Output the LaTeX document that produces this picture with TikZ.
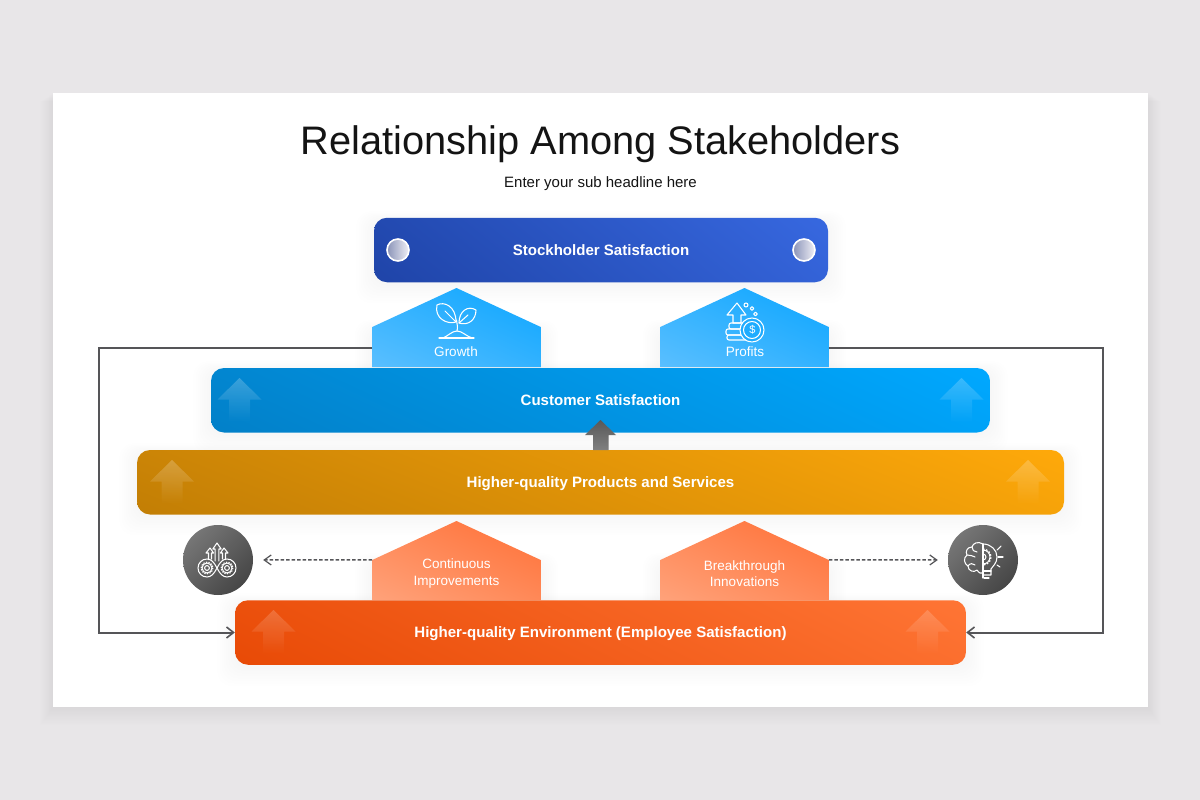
\documentclass[tikz,border=0pt]{standalone}
\usepackage{fontspec}
\setmainfont{Liberation Sans}
\usetikzlibrary{arrows.meta,calc,fadings,shadings}
\definecolor{pagebg}{HTML}{E8E6E8}
\definecolor{linegray}{HTML}{555558}
\definecolor{inktext}{HTML}{141414}
\definecolor{stockA}{HTML}{1F44A8}\definecolor{stockB}{HTML}{3768E0}
\definecolor{custA}{HTML}{0280C8}\definecolor{custB}{HTML}{00A8FF}
\definecolor{prodA}{HTML}{C27E05}\definecolor{prodB}{HTML}{FFA90A}
\definecolor{envA}{HTML}{E84A06}\definecolor{envB}{HTML}{FF7535}
\definecolor{skyA}{HTML}{5ABFFF}\definecolor{skyB}{HTML}{0AA5FF}
\definecolor{peachA}{HTML}{FFA27A}\definecolor{peachB}{HTML}{FF6F35}
\definecolor{badgeA}{HTML}{808080}\definecolor{badgeB}{HTML}{3C3C3C}
\definecolor{dotA}{HTML}{8A93B8}\definecolor{dotB}{HTML}{F0F0F6}
\definecolor{upA}{HTML}{585858}\definecolor{upB}{HTML}{808080}
\tikzset{
  corners/.style n args={2}{lower left=#1,upper right=#2,lower right=#1!50!#2,upper left=#1!50!#2},
  barcorners/.style n args={2}{lower left=#1,upper right=#2,lower right=#1!15!#2,upper left=#1!85!#2},
  bar/.style={rounded corners=13pt,inner sep=0pt,minimum height=64.5pt,text=white,text height=12.4pt,text depth=1.6pt,font=\fontsize{15.05}{18}\selectfont\bfseries},
  housebody/.style={inner sep=0pt,minimum width=168.5pt},
  houselabel/.style={text=white,font=\fontsize{13.5}{16.5}\selectfont,align=center,inner sep=0pt},
  iconline/.style={draw=white,line width=1.05pt,line cap=round,line join=round},
  connector/.style={draw=linegray,line width=2pt,-{Straight Barb[length=7pt,width=11pt,line width=1.6pt]}},
  dashconn/.style={draw=linegray,line width=1.5pt,dash pattern=on 3.5pt off 2pt,-{Straight Barb[length=7pt,width=10pt,line width=1.2pt]},shorten >=10pt},
  badge/.style={circle,minimum size=70pt,inner sep=0pt,shade,upper left=badgeA,lower right=badgeB,upper right=badgeA!50!badgeB,lower left=badgeA!50!badgeB},
  knob/.style={circle,minimum size=22pt,inner sep=0pt,draw=white,line width=1.6pt,left color=dotA,right color=dotB},
}
\newcommand{\softshadow}[4]{%
  \foreach \k in {1,...,8}{\fill[black,opacity=0.005,rounded corners=14pt]
    (#1-\k*2.2,#2-\k*1.2+3) rectangle (#3+\k*2.2,#4+\k*2.5+1);}}
\newcommand{\arrowfade}[3]{% cx, tip y, opacity
  \fill[white,fill opacity=#3,path fading=south]
    (#1,#2) -- (#1+22,#2+21.5) -- (#1+10.5,#2+21.5) -- (#1+10.5,#2+44)
    -- (#1-10.5,#2+44) -- (#1-10.5,#2+21.5) -- (#1-22,#2+21.5) -- cycle;}
\newcommand{\house}[6]{% name, cx, shoulder y, bottom y, lower-left colour, upper-right colour
  \softshadow{#2-84}{#3}{#2+84}{#4}
  \shade[corners={#5}{#6}]
    (#2-84.25,#4) -- (#2-84.25,#3) -- (#2,#3-39) -- (#2+84.25,#3) -- (#2+84.25,#4) -- cycle;
  \node[housebody,minimum height=42pt] (#1) at (#2,#3+21) {};}
\begin{document}
\begin{tikzpicture}[x=1pt,y=-1pt]
\useasboundingbox (0,0) rectangle (1200,800);
\fill[pagebg] (0,0) rectangle (1200,800);
% card
\foreach \k in {1,...,14}{\fill[black,opacity=0.004] (53-\k*.9,93+\k*.6) rectangle (1148+\k*.9,707+\k*1.3);}
\fill[white] (53,93) rectangle (1148,707);
% title
\node[text=inktext,font=\fontsize{39.8}{44}\selectfont,inner sep=0pt] (title) at (600.5,144.5) {Relationship Among Stakeholders};
\node[text=inktext,font=\fontsize{15}{17}\selectfont,inner sep=0pt] (subtitle) at (600.5,183.5) {Enter your sub headline here};
% shadows of bars
\softshadow{374}{218}{828}{282}
\softshadow{211}{368}{990}{432}
\softshadow{137}{450}{1064}{514}
\softshadow{235}{600}{966}{665}
% rail coordinates
\coordinate (railL) at (99,490);
\coordinate (railR) at (1102.5,490);
% houses
\house{growth}{456.5}{327}{367}{skyA}{skyB}
\house{profits}{744.5}{327}{367}{skyA}{skyB}
\house{contimp}{456.5}{560}{600}{peachA}{peachB}
\house{breakin}{744.5}{560}{600}{peachA}{peachB}
% bars
\node[bar,shade,barcorners={stockA}{stockB},minimum width=454pt] (stock) at (601,250) {Stockholder Satisfaction};
\node[bar,shade,barcorners={custA}{custB},minimum width=779pt] (cust) at (600.5,400.25) {Customer Satisfaction};
\node[bar,shade,barcorners={prodA}{prodB},minimum width=927pt] (prod) at (600.5,482.25) {Higher-quality Products and Services};
\node[bar,shade,barcorners={envA}{envB},minimum width=731pt] (env) at (600.5,632.5) {Higher-quality Environment (Employee Satisfaction)};
% knobs
\node[knob] (knobL) at (398,250) {};
\node[knob] (knobR) at (804,250) {};
% faded arrows
\arrowfade{239.5}{378}{0.22}
\arrowfade{961.5}{378}{0.22}
\arrowfade{172}{460}{0.22}
\arrowfade{1028}{460}{0.22}
\arrowfade{273.5}{610}{0.18}
\arrowfade{927.5}{610}{0.18}
% central arrow
\shade[top color=upA,bottom color=upB]
  (600.5,420) -- (616,435) -- (608.5,435) -- (608.5,450) -- (593,450) -- (593,435) -- (585,435) -- cycle;
% house labels
\node[houselabel] (growthtxt) at (456,351.5) {Growth};
\node[houselabel] (profitstxt) at (745,351.5) {Profits};
\node[houselabel] (contimptxt) at (456.5,573.5) {Continuous\\Improvements};
\node[houselabel] (breakintxt) at (744.5,573.5) {Breakthrough\\Innovations};
% badges
\node[badge] (gears) at (218,560) {};
\node[badge] (brain) at (983,560) {};
% connectors
\draw[connector] (growth.west) -| (railL) |- (env.west);
\draw[connector] (profits.east) -| (railR) |- (env.east);
\draw[dashconn] (contimp.north west) -- (gears.east);
\draw[dashconn] (breakin.north east) -- (brain.west);
% growth icon
\draw[iconline] (437,305) .. controls (444,301) and (456,306) .. (456,322) .. controls (447,325) and (434,318) .. (437,305) -- cycle;
\draw[iconline] (445,311) -- (456,322);
\draw[iconline] (476,310) .. controls (468,305) and (459,311) .. (459,323) .. controls (468,326) and (476,320) .. (476,310) -- cycle;
\draw[iconline] (468,315) -- (459,323);
\draw[iconline] (456.5,320) .. controls (457,324) and (458,327) .. (457,331);
\draw[iconline] (443,338) .. controls (448,336) and (452,331) .. (457,331) .. controls (462,331) and (466,336) .. (472,338);
\draw[iconline] (439,338) -- (474,338);
% profits icon
\draw[iconline] (737,303) -- (746,315) -- (741,315) -- (741,323) -- (733,323) -- (733,315) -- (727,315) -- cycle;
\draw[iconline,rounded corners=2pt] (746,323) -- (729,323) -- (729,329) -- (742,329);
\draw[iconline,rounded corners=2pt] (742,329) -- (726,329) -- (726,335) -- (741,335);
\draw[iconline,rounded corners=2pt] (741,335) -- (727,335) -- (727,340) -- (746,340);
\fill[skyB!75!skyA] (752,330) circle[radius=12];
\draw[iconline] (752,330) circle[radius=12];
\draw[iconline] (752,330) circle[radius=8.5];
\node[text=white,font=\fontsize{11}{12}\selectfont,inner sep=0pt] (dollarsign) at (752.5,330) {\$};
\draw[iconline] (746,305) circle[radius=2];
\draw[iconline] (752,308.5) circle[radius=1.8];
\draw[iconline] (755.5,314) circle[radius=1.8];
% gears icon
\draw[iconline] (217,568) .. controls (214,562) and (211,559) .. (207,559) .. controls (202,559) and (198,563) .. (198,568) .. controls (198,573) and (202,577) .. (207,577) .. controls (211,577) and (214,574) .. (217,568) .. controls (220,562) and (223,559) .. (227,559) .. controls (232,559) and (236,563) .. (236,568) .. controls (236,573) and (232,577) .. (227,577) .. controls (223,577) and (220,574) .. (217,568);
\foreach \gx in {207,227}{
  \draw[iconline] (\gx,568) circle[radius=2.4];
  \draw[iconline] (\gx,568) circle[radius=5];
  \draw[draw=white,line width=1.1pt,dash pattern=on 1.3pt off 1.3pt] (\gx,568) circle[radius=5.8];
}
\draw[iconline] (215.2,561) -- (215.2,549) -- (212.8,549) -- (217,543) -- (221.2,549) -- (218.8,549) -- (218.8,561);
\draw[iconline] (208.5,559.5) -- (208.5,553) -- (206,553) -- (210,548) -- (213.6,553) -- (211.5,553) -- (211.5,559);
\draw[iconline] (222.5,559) -- (222.5,553) -- (220.4,553) -- (224,548) -- (228,553) -- (225.5,553) -- (225.5,559.5);
% brain icon
\draw[iconline] (983,544) .. controls (978,541) and (973,543) .. (972,547) .. controls (967,547) and (965,552) .. (967,555) .. controls (963,558) and (964,564) .. (968,566) .. controls (968,571) and (974,573) .. (977,570) .. controls (979,573) and (981,574) .. (983,573);
\draw[iconline] (983,544) -- (983,578);
\draw[iconline] (972,547) .. controls (972,550) and (974,552) .. (977,552);
\draw[iconline] (967,555) .. controls (970,556) and (973,555) .. (975,557);
\draw[iconline] (968,566) .. controls (970,563) and (973,563) .. (975,565);
\draw[iconline] (983,544) .. controls (991,544) and (997,550) .. (997,557) .. controls (997,563) and (993,566) .. (991,569) -- (991,575) -- (983,575);
\draw[iconline] (984,571) -- (991,571);
\draw[iconline] (984,578) -- (989,578);
\draw[iconline] (983,550) arc[start angle=-90,end angle=90,radius=7];
\draw[iconline] (983,554) arc[start angle=-90,end angle=90,radius=3];
\draw[draw=white,line width=1.2pt,dash pattern=on 1.6pt off 1.6pt] (983,549) arc[start angle=-90,end angle=90,radius=8];
\draw[iconline] (997,550) -- (1001,546);
\draw[iconline] (998,557) -- (1003,557);
\draw[iconline] (997,565) -- (1000,567);
\end{tikzpicture}
\end{document}
